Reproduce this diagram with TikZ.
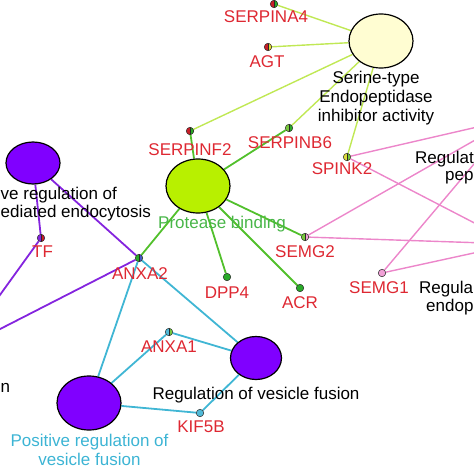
\documentclass[tikz,border=0pt]{standalone}
\usepackage{fontspec}
\setmainfont{Liberation Sans}
\usetikzlibrary{shapes.geometric,backgrounds}
\definecolor{lblred}{RGB}{222,40,50}
\definecolor{lblgreen}{RGB}{72,182,72}
\definecolor{lblcyan}{RGB}{60,180,212}
\definecolor{sercol}{RGB}{192,232,84}
\definecolor{procol}{RGB}{82,192,44}
\definecolor{purcol}{RGB}{132,36,222}
\definecolor{cyacol}{RGB}{64,182,212}
\definecolor{pnkcol}{RGB}{236,134,202}
\definecolor{serfill}{RGB}{255,253,210}
\definecolor{profill}{RGB}{184,240,0}
\definecolor{purfill}{RGB}{128,0,255}
\definecolor{dred}{RGB}{200,30,40}
\definecolor{dgreen}{RGB}{40,170,40}
\definecolor{lgreen}{RGB}{120,200,60}
\definecolor{dyel}{RGB}{220,220,60}
\definecolor{dpink}{RGB}{240,160,214}
\definecolor{dcyan}{RGB}{80,186,216}
\definecolor{dblue}{RGB}{70,90,200}
\begin{document}
\begin{tikzpicture}[x=1pt,y=-1pt,font=\fontsize{17}{18.8}\selectfont,
  term/.style={ellipse, draw=black, line width=1.2pt, inner sep=0pt, minimum width=64pt, minimum height=54pt},
  sdot/.style={circle, draw=black!85, line width=0.5pt, inner sep=0pt, minimum size=7.5pt, fill=#1},
  gdot/.style 2 args={circle, draw=black!85, line width=0.5pt, inner sep=0pt, minimum size=7.5pt, fill=#1,
    path picture={\fill[#2] (path picture bounding box.north) rectangle (path picture bounding box.south east);
      \draw[black!85, line width=0.4pt] (path picture bounding box.north) -- (path picture bounding box.south);}},
  glabel/.style={text=lblred, anchor=base, inner sep=0pt},
  tlabel/.style={text=black, anchor=base, inner sep=0pt, align=center},
  eser/.style={draw=sercol, line width=1.4pt},
  epro/.style={draw=procol, line width=1.8pt},
  epur/.style={draw=purcol, line width=1.8pt},
  ecya/.style={draw=cyacol, line width=1.8pt},
  epnk/.style={draw=pnkcol, line width=1.4pt}]
\useasboundingbox (0,0) rectangle (474,474);
\clip (0,0) rectangle (474,474);

% term nodes
\node[term, fill=serfill] (serine) at (381,41) {};
\node[term, fill=profill] (protease) at (198,186) {};
\node[term, fill=purfill, minimum width=54pt, minimum height=42pt] (endo) at (33,163) {};
\node[term, fill=purfill] (posves) at (89,403) {};
\node[term, fill=purfill, minimum width=51pt, minimum height=43pt] (regves) at (256,358) {};
\coordinate (leftterm) at (-39,349);
\coordinate (peptid) at (512,119);
\coordinate (endopep) at (515,244);

% gene dots
\node[gdot={dred}{dgreen}] (serpina4) at (274,4) {};
\node[gdot={dred}{dyel}] (agt) at (268,47) {};
\node[gdot={dred}{dgreen}] (serpinf2) at (190,131) {};
\node[gdot={lgreen}{dgreen}] (serpinb6) at (289,128) {};
\node[gdot={dyel}{lgreen}] (spink2) at (347,157) {};
\node[gdot={lgreen}{dpink}] (semg2) at (305,237) {};
\node[sdot=dgreen] (dpp4) at (227,277) {};
\node[sdot=dgreen] (acr) at (300,288) {};
\node[sdot=dpink] (semg1) at (382,273) {};
\node[gdot={purcol}{dred}] (tf) at (41,238) {};
\node[gdot={dgreen}{dblue}] (anxa2) at (139,258) {};
\node[gdot={dcyan}{lgreen}] (anxa1) at (169,332) {};
\node[sdot=dcyan] (kif5b) at (200,413) {};

% edges
\begin{pgfonlayer}{background}
\clip (0,0) rectangle (474,474);
\draw[eser] (serpina4) -- (serine);
\draw[eser] (agt) -- (serine);
\draw[eser] (serpinf2) -- (serine);
\draw[eser] (serpinb6) -- (serine);
\draw[eser] (spink2) -- (serine);
\draw[epro] (serpinf2) -- (protease);
\draw[epro] (serpinb6) -- (protease);
\draw[epro] (semg2) -- (protease);
\draw[epro] (dpp4) -- (protease);
\draw[epro] (acr) -- (protease);
\draw[epro] (anxa2) -- (protease);
\draw[epur] (endo) -- (tf);
\draw[epur] (endo) -- (anxa2);
\draw[epur] (tf) -- (leftterm);
\draw[epur] (anxa2) -- (leftterm);
\draw[ecya] (anxa2) -- (posves);
\draw[ecya] (anxa2) -- (regves);
\draw[ecya] (anxa1) -- (posves);
\draw[ecya] (anxa1) -- (regves);
\draw[ecya] (kif5b) -- (posves);
\draw[ecya] (kif5b) -- (regves);
\draw[epnk] (spink2) -- (peptid);
\draw[epnk] (semg2) -- (peptid);
\draw[epnk] (semg1) -- (peptid);
\draw[epnk] (spink2) -- (endopep);
\draw[epnk] (semg2) -- (endopep);
\draw[epnk] (semg1) -- (endopep);
\end{pgfonlayer}

% gene labels
\node[glabel] (l-serpina4) at (266,22.5) {SERPINA4};
\node[glabel] (l-agt) at (267,67) {AGT};
\node[glabel] (l-serpinf2) at (190,155) {SERPINF2};
\node[glabel] (l-serpinb6) at (290,148) {SERPINB6};
\node[glabel] (l-spink2) at (342,174) {SPINK2};
\node[glabel] (l-semg2) at (305,257) {SEMG2};
\node[glabel] (l-dpp4) at (227,298) {DPP4};
\node[glabel] (l-acr) at (300,308) {ACR};
\node[glabel] (l-semg1) at (379,293) {SEMG1};
\node[glabel] (l-tf) at (42.5,257) {TF};
\node[glabel] (l-anxa2) at (140,279) {ANXA2};
\node[glabel] (l-anxa1) at (169,352) {ANXA1};
\node[glabel] (l-kif5b) at (201,432) {KIF5B};

% term labels (multi-line: base = last line)
\node[tlabel] (t-serine) at (376,121.5) {Serine-type\\Endopeptidase\\inhibitor activity};
\node[tlabel, text=lblgreen] (t-protease) at (222,228) {Protease binding};
\node[tlabel, anchor=base west] (t-endo1) at (0.5,199) {ve regulation of};
\node[tlabel, anchor=base west] (t-endo2) at (0.5,217) {ediated endocytosis};
\node[tlabel, text=lblcyan] (t-posves) at (89.5,465) {Positive regulation of\\vesicle fusion};
\node[tlabel] (t-regves) at (256,399) {Regulation of vesicle fusion};
\node[tlabel, anchor=base west] (t-pep1) at (415,163) {Regulat};
\node[tlabel, anchor=base west] (t-pep2) at (445,180) {pep};
\node[tlabel, anchor=base west] (t-endop1) at (419,293) {Regula};
\node[tlabel, anchor=base west] (t-endop2) at (426,311) {endop};
\node[tlabel, anchor=base west] (t-left) at (0.5,392) {n};
\end{tikzpicture}
\end{document}
